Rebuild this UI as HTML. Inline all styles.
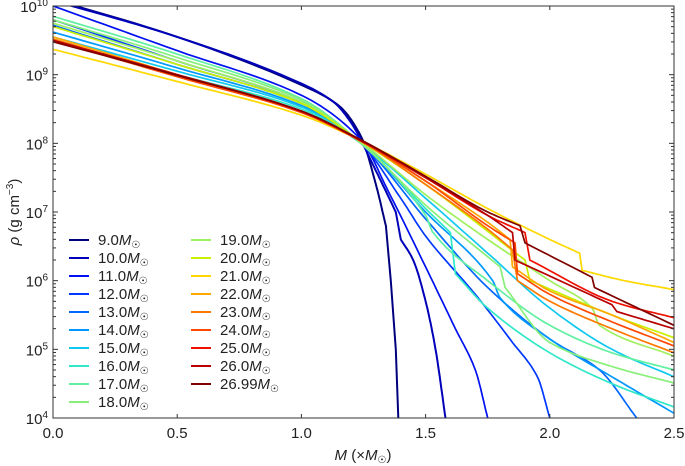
<!DOCTYPE html>
<html><head><meta charset="utf-8">
<style>
html,body{margin:0;padding:0;background:#fff;}
svg{display:block;font-family:"Liberation Sans",Arial,sans-serif;}
</style></head>
<body>
<svg id="chart" width="685" height="466" viewBox="0 0 685 466" xmlns="http://www.w3.org/2000/svg">
<g id="plot"></g>
<g id="axes"></g>
<g id="legend"></g>
</svg>
<script>
const names = ["9.0","10.0","11.0","12.0","13.0","14.0","15.0","16.0","17.0","18.0","19.0","20.0","21.0","22.0","23.0","24.0","25.0","26.0","26.99"];
const colors = ["#00007f","#0000b8","#0010f0","#0038ff","#0068ff","#0098ff","#10c8f0","#30e8c8","#60f0a0","#88f078","#a0f060","#c8f000","#ffd800","#ffa800","#ff7800","#ff4800","#f01000","#b80000","#800000"];
const s9  = [[0,10.1],[0.5,9.55],[1.0,8.85],[1.15,8.55],[1.24,8.1],[1.3,7.4],[1.34,6.8],[1.36,6],[1.38,5],[1.39,4]];
const s10 = [[0,10.08],[0.5,9.55],[1.0,8.87],[1.13,8.6],[1.2,8.3],[1.3,7.6],[1.38,7.0],[1.4,6.6],[1.45,6.3],[1.5,5.7],[1.54,5.0],[1.58,4]];
const s11 = [[0,10.0],[0.5,9.35],[1.0,8.7],[1.24,8.05],[1.35,7.3],[1.5,6.2],[1.62,5.3],[1.7,4.7],[1.75,4]];
const s12 = [[0,9.8],[0.5,9.2],[1.0,8.6],[1.24,8.0],[1.4,7.2],[1.5,6.65],[1.7,5.8],[1.85,5.1],[1.95,4.6],[2.0,4]];
const s13 = [[0,9.72],[0.5,9.15],[1.0,8.58],[1.24,8.0],[1.5,6.9],[1.75,5.9],[2.0,5.15],[2.2,4.7],[2.35,4]];
const s14 = [[0,9.62],[0.5,9.1],[1.0,8.55],[1.24,8.0],[1.5,7.0],[1.77,6.0],[1.8,5.75],[2.0,5.15],[2.25,4.6],[2.5,4.07]];
const s15 = [[0,9.55],[0.5,9.05],[1.0,8.53],[1.24,8.0],[1.5,7.2],[1.75,6.4],[2.0,5.6],[2.25,5.0],[2.5,4.6]];
const s16 = [[0,9.5],[0.5,9.0],[1.0,8.5],[1.24,8.0],[1.5,7.05],[1.6,6.7],[1.62,6.1],[1.75,5.6],[2.0,4.95],[2.25,4.5],[2.5,4.16]];
const s17 = [[0,9.85],[0.5,9.3],[1.0,8.65],[1.24,8.0],[1.5,6.95],[1.53,6.7],[1.75,6.0],[2.0,5.35],[2.25,4.95],[2.5,4.7]];
const s18 = [[0,9.8],[0.5,9.25],[1.0,8.63],[1.24,8.0],[1.5,7.1],[1.8,6.2],[1.82,5.9],[2.0,5.1],[2.25,4.75],[2.5,4.51]];
const s19 = [[0,9.75],[0.5,9.2],[1.0,8.6],[1.24,8.02],[1.5,7.25],[1.75,6.6],[2.0,6.0],[2.17,5.6],[2.2,5.35],[2.5,4.9]];
const s20 = [[0,9.7],[0.5,9.15],[1.0,8.58],[1.24,8.03],[1.5,7.4],[1.9,6.3],[1.92,6.0],[2.25,5.5],[2.5,5.17]];
const s21 = [[0,9.37],[0.5,8.9],[1.0,8.41],[1.24,8.04],[1.5,7.55],[1.75,7.05],[2.0,6.6],[2.12,6.4],[2.13,6.15],[2.3,6.0],[2.5,5.87]];
const s22 = [[0,9.55],[0.5,9.0],[1.0,8.45],[1.24,8.03],[1.5,7.45],[1.75,6.85],[1.84,6.6],[1.85,6.2],[2.0,5.85],[2.25,5.5],[2.5,5.1]];
const s23 = [[0,9.52],[0.5,8.98],[1.0,8.45],[1.24,8.03],[1.5,7.4],[1.75,6.75],[1.85,6.45],[1.87,6.0],[2.0,5.7],[2.25,5.3],[2.5,4.95]];
const s24 = [[0,9.5],[0.5,8.97],[1.0,8.45],[1.24,8.03],[1.5,7.45],[1.75,6.8],[1.86,6.55],[1.87,6.1],[2.0,5.8],[2.25,5.4],[2.5,5.05]];
const s25 = [[0,9.5],[0.5,9.0],[1.0,8.46],[1.24,8.04],[1.5,7.5],[1.75,6.95],[1.9,6.7],[1.92,6.3],[2.25,5.7],[2.5,5.46]];
const s26 = [[0,9.5],[0.5,9.0],[1.0,8.47],[1.24,8.04],[1.5,7.5],[1.75,6.95],[1.85,6.7],[1.86,6.3],[2.25,5.65],[2.27,5.55],[2.5,5.3]];
const s2699 = [[0,9.48],[0.5,8.99],[1.0,8.47],[1.24,8.05],[1.5,7.52],[1.75,7.0],[1.88,6.8],[1.9,6.55],[2.17,6.05],[2.18,5.9],[2.5,5.35]];
const series = [s9,s10,s11,s12,s13,s14,s15,s16,s17,s18,s19,s20,s21,s22,s23,s24,s25,s26,s2699];
const xTicks = [0,0.5,1.0,1.5,2.0,2.5];
const xTickLabels = ["0.0","0.5","1.0","1.5","2.0","2.5"];
const yTicks = [4,5,6,7,8,9,10];

const NS="http://www.w3.org/2000/svg";
const L=53,R=674,T=6,B=418;
const xs = m => L + (m-0)/(2.5-0)*(R-L);
const ys = lg => B - (lg-4)/(10-4)*(B-T);
function mk(tag,attrs,parent){const e=document.createElementNS(NS,tag);for(const k in attrs)e.setAttribute(k,attrs[k]);parent.appendChild(e);return e;}

// smooth long segments (monotone cubic), keep short step segments straight
function smooth(pts){
  const n=pts.length, x=pts.map(p=>p[0]), y=pts.map(p=>p[1]);
  const d=[],m=new Array(n).fill(0);
  for(let i=0;i<n-1;i++)d.push((y[i+1]-y[i])/(x[i+1]-x[i]));
  const isStep=i=>(x[i+1]-x[i])<0.03;
  for(let i=0;i<n;i++){
    const a=i>0&&!isStep(i-1)?d[i-1]:null, b=i<n-1&&!isStep(i)?d[i]:null;
    if(a!==null&&b!==null) m[i]=(a*b<=0)?0:2/(1/a+1/b);
    else m[i]=a!==null?a:(b!==null?b:0);
  }
  const out=[];
  for(let i=0;i<n-1;i++){
    const h=x[i+1]-x[i];
    if(isStep(i)){out.push(pts[i]);continue;}
    for(let k=0;k<12;k++){
      const t=k/12,t2=t*t,t3=t2*t;
      const v=(2*t3-3*t2+1)*y[i]+(t3-2*t2+t)*h*m[i]+(-2*t3+3*t2)*y[i+1]+(t3-t2)*h*m[i+1];
      out.push([x[i]+t*h,v]);
    }
  }
  out.push(pts[n-1]);
  return out;
}

const plot=document.getElementById('plot');
const defs=mk('defs',{},plot);
const cp=mk('clipPath',{id:'clip'},defs);
mk('rect',{x:L,y:T,width:R-L,height:B-T},cp);
const lines=mk('g',{'clip-path':'url(#clip)'},plot);
series.forEach((s,i)=>{
  const sm=smooth(s);
  const p=mk('polyline',{points:sm.map(d=>xs(d[0]).toFixed(1)+','+ys(d[1]).toFixed(1)).join(' '),fill:'none',stroke:colors[i],'stroke-width':i<2?2:1.7,'stroke-linejoin':'round'},lines);
  
  
});

const axes=document.getElementById('axes');
const frame=mk('rect',{x:L,y:T,width:R-L,height:B-T,fill:'none',stroke:'#333','stroke-width':1},axes);


xTicks.forEach((t,i)=>{
  const x=xs(t);
  mk('line',{x1:x,y1:B,x2:x,y2:B-4,stroke:'#333'},axes);
  mk('line',{x1:x,y1:T,x2:x,y2:T+4,stroke:'#333'},axes);
  const tx=mk('text',{x:x,y:438,'text-anchor':'middle','font-size':15,fill:'#222'},axes);
  tx.textContent=xTickLabels[i];
  
  
});
yTicks.forEach(t=>{
  const y=ys(t);
  mk('line',{x1:L,y1:y,x2:L+5,y2:y,stroke:'#333'},axes);
  mk('line',{x1:R,y1:y,x2:R-5,y2:y,stroke:'#333'},axes);
  if(t<10){for(let k=2;k<10;k++){const yy=ys(t+Math.log10(k));
    mk('line',{x1:L,y1:yy,x2:L+3,y2:yy,stroke:'#333'},axes);
    mk('line',{x1:R,y1:yy,x2:R-3,y2:yy,stroke:'#333'},axes);}}
  const tx=mk('text',{x:L-5,y:y+6,'text-anchor':'end','font-size':15,fill:'#222'},axes);
  tx.innerHTML='10<tspan dy="-6" font-size="10">'+t+'</tspan>';
  
  
});
const xl=mk('text',{x:363,y:460,'text-anchor':'middle','font-size':15,fill:'#222'},axes);
xl.innerHTML='<tspan font-style="italic">M</tspan> (×<tspan font-style="italic">M</tspan><tspan font-size="10" dy="3">☉</tspan><tspan dy="-3">)</tspan>';


const yl=mk('text',{x:0,y:0,'text-anchor':'middle','font-size':15,fill:'#222',transform:'translate(19,212) rotate(-90)'},axes);
yl.innerHTML='<tspan font-style="italic">ρ</tspan> (g cm<tspan font-size="10" dy="-6">−3</tspan><tspan dy="6">)</tspan>';



const leg=document.getElementById('legend');
names.forEach((n,i)=>{
  const col=i<10?0:1, row=i<10?i:i-10;
  const x0=col?191:69, y0=240+row*18;
  const g=mk('g',{},leg);
  
  
  mk('line',{x1:x0,y1:y0,x2:x0+20,y2:y0,stroke:colors[i],'stroke-width':2},g);
  const t=mk('text',{x:x0+29,y:y0+5,'font-size':15,fill:'#222'},g);
  t.innerHTML=n+'<tspan font-style="italic">M</tspan><tspan font-size="10" dy="3">☉</tspan>';
});
</script>
</body></html>
